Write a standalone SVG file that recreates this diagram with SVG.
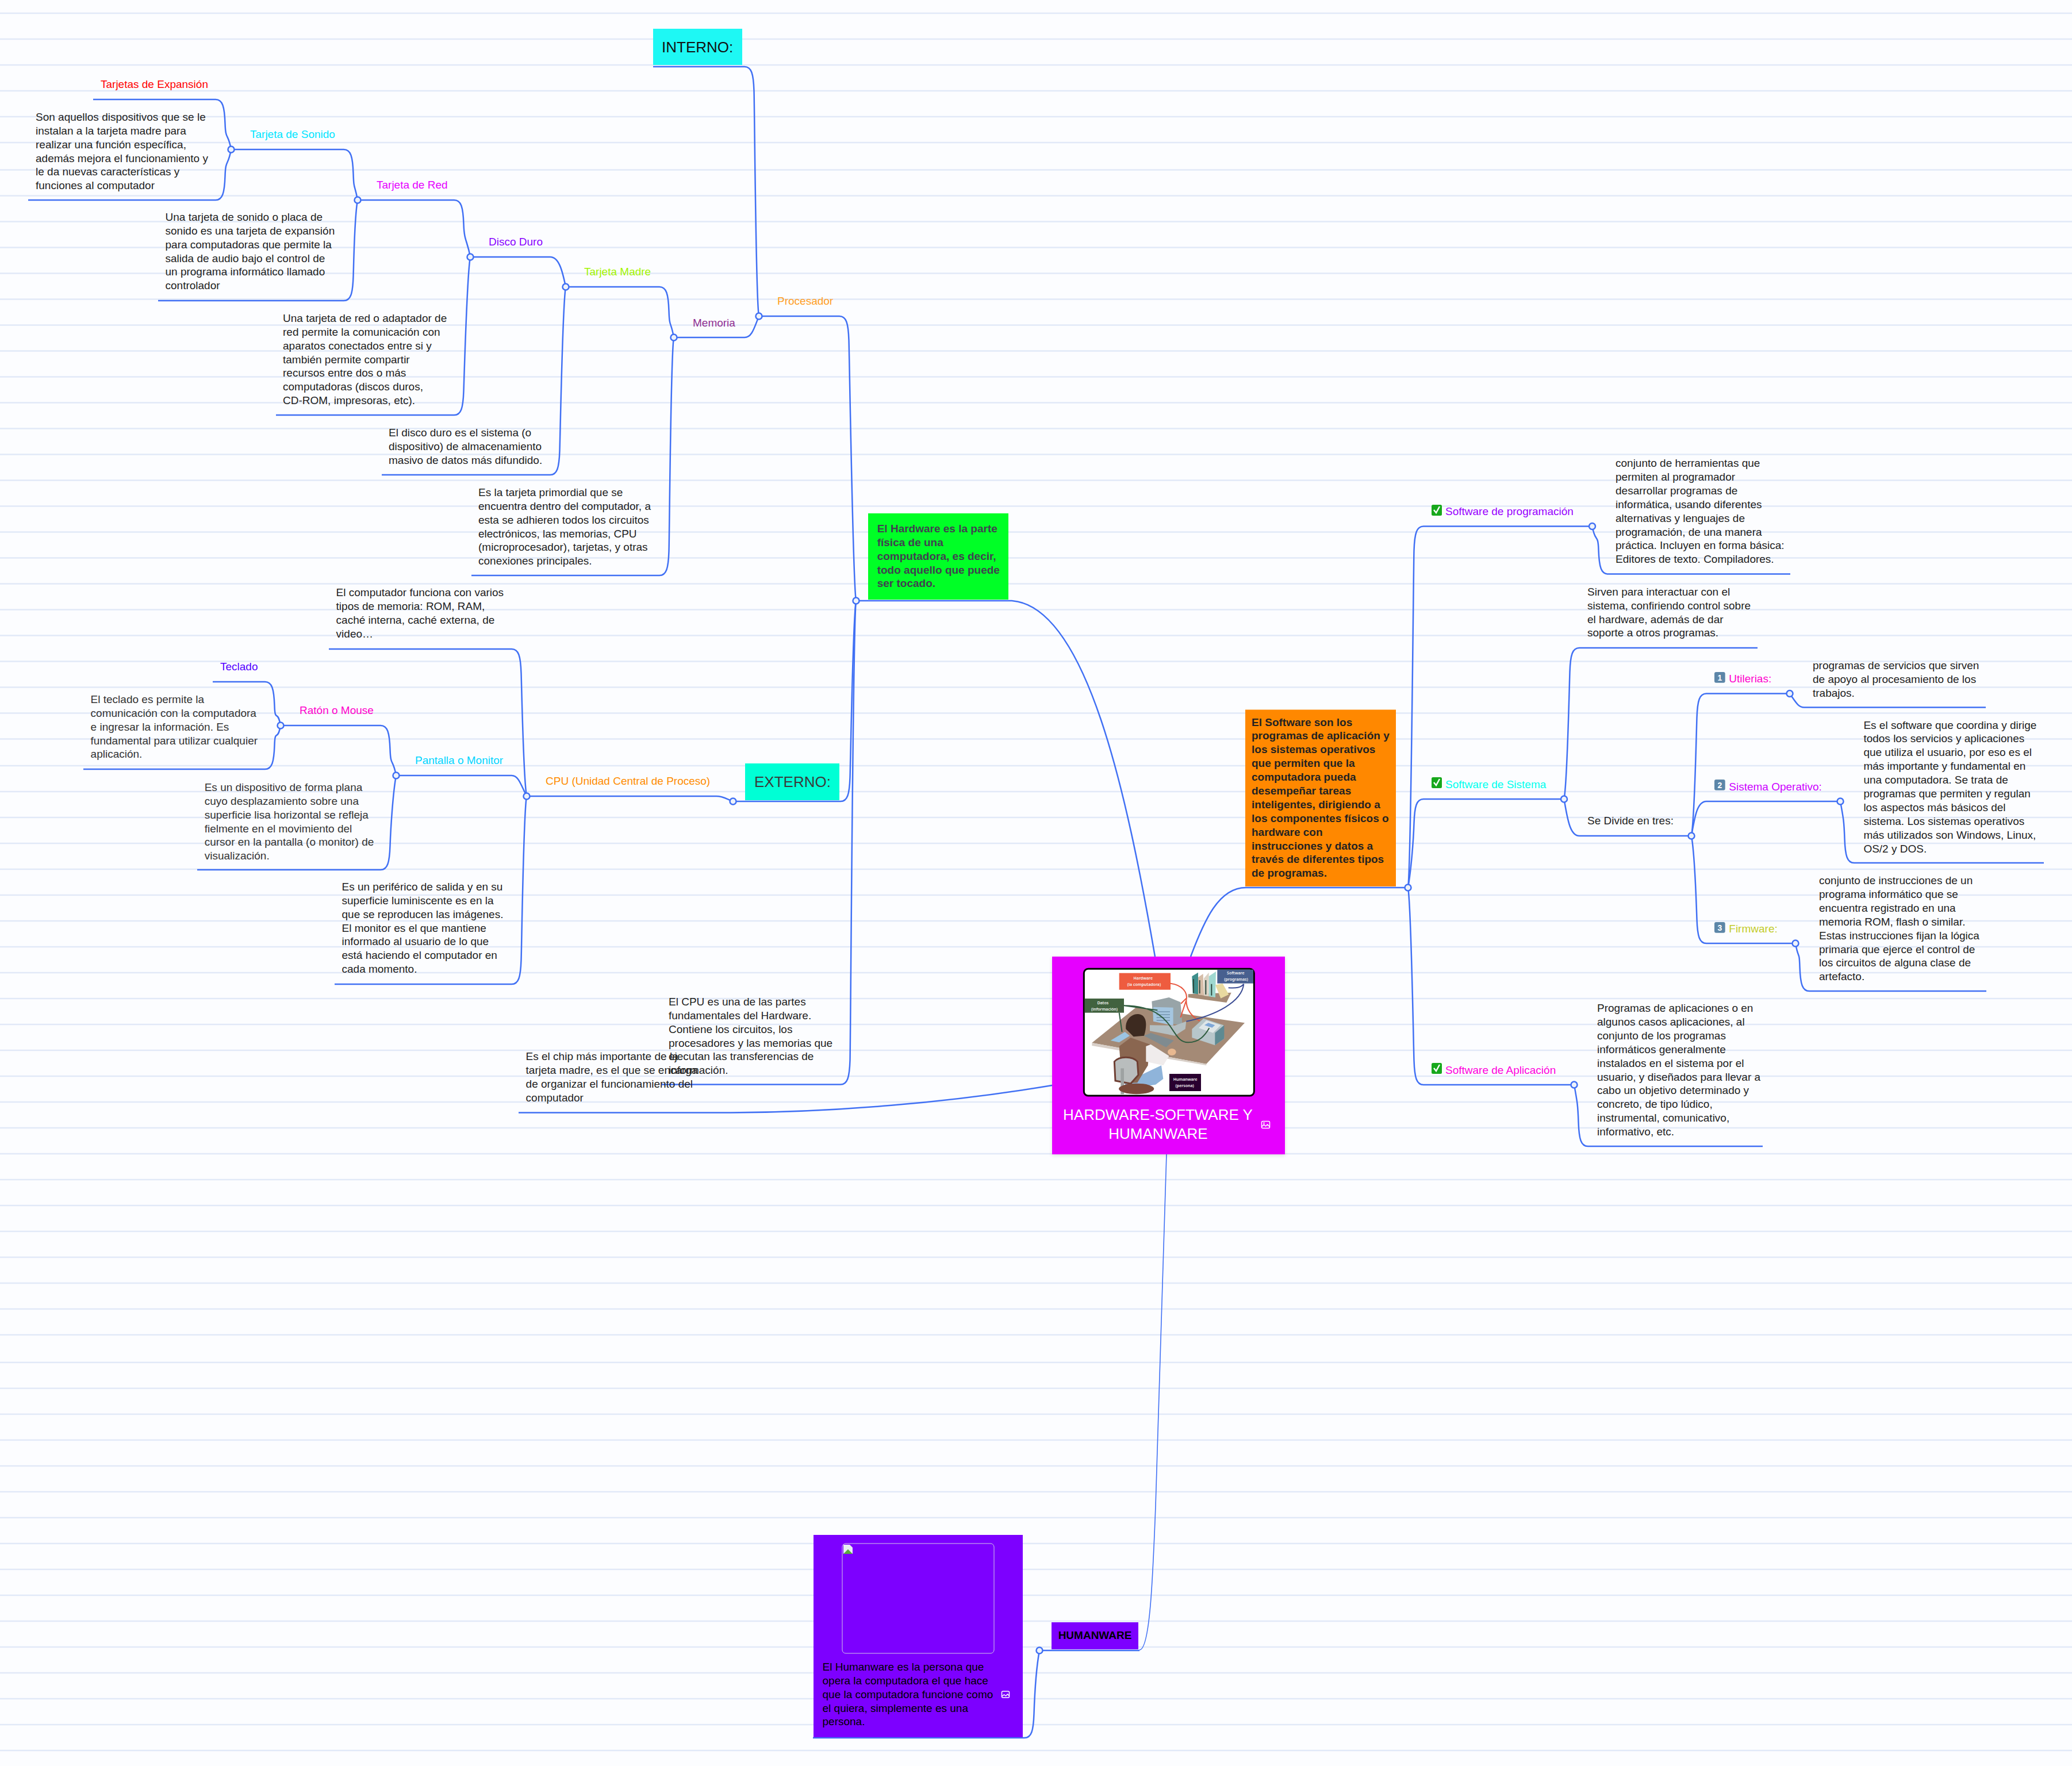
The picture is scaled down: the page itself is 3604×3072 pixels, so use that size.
<svg xmlns="http://www.w3.org/2000/svg" width="3604" height="3072" viewBox="0 0 3604 3072">
<defs><filter id="sh" x="-5%" y="-5%" width="110%" height="110%"><feDropShadow dx="0" dy="2" stdDeviation="3" flood-color="#000" flood-opacity=".12"/></filter></defs>
<style>
text{font-family:"Liberation Sans",Arial,sans-serif;font-size:19px;fill:#1e1e1e}
.bold{font-weight:700}
.big{font-size:26px}
.conn{fill:none;stroke:#4070f4;stroke-width:2.5}
.thin{fill:none;stroke:#4070f4;stroke-width:1.6}
.dot{fill:#edf2fa;stroke:#4070f4;stroke-width:2.5}
.ruled{fill:none;stroke:#e1e9f8;stroke-width:2.6}
.check{fill:#17a81c}
.tick{fill:none;stroke:#fff;stroke-width:2.4}
.key{fill:#5c86a8}
.keyt{font-size:14px;font-weight:700;fill:#fff;text-anchor:middle}
.icon{fill:none;stroke:#fff;stroke-width:1.5}
.it{font-family:"Noto Sans","Liberation Sans",sans-serif;font-size:21px;font-weight:600;fill:#f4f4f4;text-anchor:middle}
</style>
<rect width="3604" height="3072" fill="#fcfdff"/>
<path class="ruled" d="M0 23H3604M0 68H3604M0 113H3604M0 158H3604M0 203H3604M0 248H3604M0 295.5H3604M0 340.5H3604M0 385.5H3604M0 430.5H3604M0 475.5H3604M0 520.5H3604M0 565.5H3604M0 610.5H3604M0 655.5H3604M0 700.5H3604M0 745.5H3604M0 790.5H3604M0 835.5H3604M0 880.5H3604M0 925.5H3604M0 970.5H3604M0 1015.5H3604M0 1060.5H3604M0 1105.5H3604M0 1150.5H3604M0 1195.5H3604M0 1240.5H3604M0 1285.5H3604M0 1332H3604M0 1377H3604M0 1422H3604M0 1467H3604M0 1512H3604M0 1557H3604M0 1602H3604M0 1647H3604M0 1692H3604M0 1737H3604M0 1782H3604M0 1827H3604M0 1872H3604M0 1917H3604M0 1962H3604M0 2007H3604M0 2052H3604M0 2097H3604M0 2142H3604M0 2187H3604M0 2232H3604M0 2277H3604M0 2322H3604M0 2370H3604M0 2415H3604M0 2460H3604M0 2505H3604M0 2550H3604M0 2595H3604M0 2640H3604M0 2685H3604M0 2730H3604M0 2775H3604M0 2820H3604M0 2865H3604M0 2910H3604M0 2955H3604M0 3000H3604M0 3045H3604"/>

<g id="connectors">
<path class="conn" d="M162,173H375c12,0 15.5,12 16.5,42S396.5,230 402,260"/>
<path class="conn" d="M49,348H375c12,0 15.5,-12 16.5,-42S396.5,290 402,260"/>
<path class="conn" d="M402,260H598c12,0 15.5,12 16.5,42S616.5,318 622,348"/>
<path class="conn" d="M275,523H598c12,0 15.5,-12 16.5,-42S616.5,378 622,348"/>
<path class="conn" d="M622,348H790c12,0 15.5,12 16.5,42S812.5,417 818,447"/>
<path class="conn" d="M480,722H790c12,0 15.5,-12 16.5,-42S812.5,477 818,447"/>
<path class="conn" d="M818,447H957C972,447 978,470 984,499"/>
<path class="conn" d="M664,826H957c12,0 15.5,-12 16.5,-42S978.5,529 984,499"/>
<path class="conn" d="M984,499H1147c12,0 15.5,12 16.5,42S1166.5,557 1172,587"/>
<path class="conn" d="M820,1001H1147c12,0 15.5,-12 16.5,-42S1166.5,617 1172,587"/>
<path class="conn" d="M1172,587H1295C1308,587 1312,570 1320,550"/>
<path class="conn" d="M1136,116H1295c12,0 15.5,12 16.5,42S1314.5,520 1320,550"/>
<path class="conn" d="M1320,550H1460c12,0 15.5,12 16.5,42S1483.5,1015 1489,1045"/>
<path class="conn" d="M1275,1394H1462c12,0 15.5,-12 16.5,-42S1483.5,1075 1489,1045"/>
<path class="conn" d="M916,1385H1246C1258,1385 1264,1390 1275,1394"/>
<path class="conn" d="M1151,1886.5H1462c12,0 15.5,-12 16.5,-42S1483.5,1075 1489,1045"/>
<path class="conn" d="M689,1349H890C902,1349 906,1365 916,1385"/>
<path class="conn" d="M572,1129H890c12,0 15.5,12 16.5,42S910.5,1355 916,1385"/>
<path class="conn" d="M582,1712H890c12,0 15.5,-12 16.5,-42S910.5,1415 916,1385"/>
<path class="conn" d="M488,1262H662c12,0 15.5,12 16.5,42S683.5,1319 689,1349"/>
<path class="conn" d="M343,1513H662c12,0 15.5,-12 16.5,-42S683.5,1379 689,1349"/>
<path class="conn" d="M370,1186H461c12,0 15.5,12 16.5,42S482.5,1232 488,1262"/>
<path class="conn" d="M145,1338H461c12,0 15.5,-12 16.5,-42S482.5,1292 488,1262"/>
<path class="conn" d="M1489,1045H1760C1890,1055 1960,1380 2009,1664"/>
<path class="conn" d="M902,1935.6H1271C1450,1935 1650,1918 1830,1888"/>
<path class="conn" d="M2449,1544H2167C2120,1544 2095,1600 2071,1664"/>
<path class="conn" d="M2769.5,915.5H2476c-12,0 -15.5,12 -16.5,42S2454.5,1514 2449,1544"/>
<path class="conn" d="M2720.5,1390H2476c-12,0 -15.5,12 -16.5,42S2454.5,1514 2449,1544"/>
<path class="conn" d="M2738,1887H2476c-12,0 -15.5,-12 -16.5,-42S2454.5,1574 2449,1544"/>
<path class="conn" d="M3114,998.5H2797c-12,0 -15.5,-12 -16.5,-42S2775,945.5 2769.5,915.5"/>
<path class="conn" d="M3057,1127H2747c-12,0 -15.5,12 -16.5,42S2726,1360 2720.5,1390"/>
<path class="conn" d="M2942,1454H2747C2732,1454 2727,1430 2720.5,1390"/>
<path class="conn" d="M3113,1206.5H2968c-12,0 -15.5,12 -16.5,42S2947.5,1424 2942,1454"/>
<path class="conn" d="M3201,1394H2968C2952,1394 2948,1420 2942,1454"/>
<path class="conn" d="M3123,1641H2968c-12,0 -15.5,-12 -16.5,-42S2947.5,1484 2942,1454"/>
<path class="conn" d="M3454,1230.5H3138C3128,1230.5 3124,1222 3113,1206.5"/>
<path class="conn" d="M3555,1501H3225c-12,0 -15.5,-12 -16.5,-42S3206.5,1424 3201,1394"/>
<path class="conn" d="M3455,1724H3147c-12,0 -15.5,-12 -16.5,-42S3128.5,1671 3123,1641"/>
<path class="conn" d="M3066,1994H2762c-12,0 -15.5,-12 -16.5,-42S2743.5,1917 2738,1887"/>
<path class="conn" d="M1414,3023H1782c12,0 15.5,-12 16.5,-42S1802.5,2901 1808,2871"/>
<path class="conn" d="M1808,2871H1982"/>
<path class="thin" d="M2029,2008L2010,2620C2005,2750 2000,2870 1982,2870"/>
<circle class="dot" cx="402" cy="260" r="5.5"/><circle class="dot" cx="622" cy="348" r="5.5"/><circle class="dot" cx="818" cy="447" r="5.5"/><circle class="dot" cx="984" cy="499" r="5.5"/><circle class="dot" cx="1172" cy="587" r="5.5"/><circle class="dot" cx="1320" cy="550" r="5.5"/><circle class="dot" cx="1489" cy="1045" r="5.5"/><circle class="dot" cx="1275" cy="1394" r="5.5"/><circle class="dot" cx="916" cy="1385" r="5.5"/><circle class="dot" cx="689" cy="1349" r="5.5"/><circle class="dot" cx="488" cy="1262" r="5.5"/><circle class="dot" cx="2449" cy="1544" r="5.5"/><circle class="dot" cx="2769.5" cy="915.5" r="5.5"/><circle class="dot" cx="2720.5" cy="1390" r="5.5"/><circle class="dot" cx="2738" cy="1887" r="5.5"/><circle class="dot" cx="2942" cy="1454" r="5.5"/><circle class="dot" cx="3113" cy="1206.5" r="5.5"/><circle class="dot" cx="3201" cy="1394" r="5.5"/><circle class="dot" cx="3123" cy="1641" r="5.5"/><circle class="dot" cx="1808" cy="2871" r="5.5"/>
</g>

<g id="interno"><rect x="1136" y="50" width="155" height="63" fill="#1ef8f4"/><text class="big" x="1151" y="91" style="fill:#111">INTERNO:</text></g>
<g id="externo"><rect x="1296" y="1328" width="164" height="64" fill="#00ffd5"/><text class="big" x="1312" y="1369" style="fill:#3a3a3a">EXTERNO:</text></g>
<g id="tarjetas-expansion"><text x="175" y="153" style="fill:#ff0000">Tarjetas de Expansión</text></g>
<g id="expansion-desc"><text><tspan x="62" y="210">Son aquellos dispositivos que se le</tspan><tspan x="62" y="234">instalan a la tarjeta madre para</tspan><tspan x="62" y="258">realizar una función específica,</tspan><tspan x="62" y="282">además mejora el funcionamiento y</tspan><tspan x="62" y="305">le da nuevas características y</tspan><tspan x="62" y="329">funciones al computador</tspan></text></g>
<g id="tarjeta-sonido"><text x="435" y="240" style="fill:#00e5ff">Tarjeta de Sonido</text></g>
<g id="sonido-desc"><text><tspan x="287.5" y="384">Una tarjeta de sonido o placa de</tspan><tspan x="287.5" y="408">sonido es una tarjeta de expansión</tspan><tspan x="287.5" y="432">para computadoras que permite la</tspan><tspan x="287.5" y="456">salida de audio bajo el control de</tspan><tspan x="287.5" y="479">un programa informático llamado</tspan><tspan x="287.5" y="503">controlador</tspan></text></g>
<g id="tarjeta-red"><text x="655" y="328" style="fill:#e600ff">Tarjeta de Red</text></g>
<g id="red-desc"><text><tspan x="492" y="560">Una tarjeta de red o adaptador de</tspan><tspan x="492" y="584">red permite la comunicación con</tspan><tspan x="492" y="608">aparatos conectados entre si y</tspan><tspan x="492" y="632">también permite compartir</tspan><tspan x="492" y="655">recursos entre dos o más</tspan><tspan x="492" y="679">computadoras (discos duros,</tspan><tspan x="492" y="703">CD-ROM, impresoras, etc).</tspan></text></g>
<g id="disco-duro"><text x="850" y="427" style="fill:#8800ff">Disco Duro</text></g>
<g id="disco-desc"><text><tspan x="676" y="759">El disco duro es el sistema (o</tspan><tspan x="676" y="783">dispositivo) de almacenamiento</tspan><tspan x="676" y="807">masivo de datos más difundido.</tspan></text></g>
<g id="tarjeta-madre"><text x="1016" y="479" style="fill:#a4f500">Tarjeta Madre</text></g>
<g id="madre-desc"><text><tspan x="832" y="863">Es la tarjeta primordial que se</tspan><tspan x="832" y="887">encuentra dentro del computador, a</tspan><tspan x="832" y="911">esta se adhieren todos los circuitos</tspan><tspan x="832" y="935">electrónicos, las memorias, CPU</tspan><tspan x="832" y="958">(microprocesador), tarjetas, y otras</tspan><tspan x="832" y="982">conexiones principales.</tspan></text></g>
<g id="memoria"><text x="1205" y="568" style="fill:#8f2d92">Memoria</text></g>
<g id="procesador"><text x="1352" y="530" style="fill:#ff9d1f">Procesador</text></g>
<g id="hardware"><rect x="1510" y="893" width="244" height="150" fill="#00ff26"/><text class="bold" style="fill:#404050"><tspan x="1525.7" y="926">El Hardware es la parte</tspan><tspan x="1525.7" y="950">física de una</tspan><tspan x="1525.7" y="974">computadora, es decir,</tspan><tspan x="1525.7" y="997.5">todo aquello que puede</tspan><tspan x="1525.7" y="1021">ser tocado.</tspan></text></g>
<g id="memoria-desc"><text><tspan x="584.6" y="1037">El computador funciona con varios</tspan><tspan x="584.6" y="1061">tipos de memoria: ROM, RAM,</tspan><tspan x="584.6" y="1085">caché interna, caché externa, de</tspan><tspan x="584.6" y="1109">video…</tspan></text></g>
<g id="teclado"><text x="383" y="1166" style="fill:#5500ff">Teclado</text></g>
<g id="teclado-desc"><text style="fill:#333"><tspan x="157.6" y="1223">El teclado es permite la</tspan><tspan x="157.6" y="1247">comunicación con la computadora</tspan><tspan x="157.6" y="1271">e ingresar la información. Es</tspan><tspan x="157.6" y="1295">fundamental para utilizar cualquier</tspan><tspan x="157.6" y="1318">aplicación.</tspan></text></g>
<g id="raton"><text x="521" y="1242" style="fill:#ff00cc">Ratón o Mouse</text></g>
<g id="raton-desc"><text style="fill:#333"><tspan x="355.7" y="1376">Es un dispositivo de forma plana</tspan><tspan x="355.7" y="1400">cuyo desplazamiento sobre una</tspan><tspan x="355.7" y="1424">superficie lisa horizontal se refleja</tspan><tspan x="355.7" y="1448">fielmente en el movimiento del</tspan><tspan x="355.7" y="1471">cursor en la pantalla (o monitor) de</tspan><tspan x="355.7" y="1495">visualización.</tspan></text></g>
<g id="pantalla"><text x="722" y="1329" style="fill:#00d5ff">Pantalla o Monitor</text></g>
<g id="pantalla-desc"><text><tspan x="594.5" y="1549">Es un periférico de salida y en su</tspan><tspan x="594.5" y="1573">superficie luminiscente es en la</tspan><tspan x="594.5" y="1597">que se reproducen las imágenes.</tspan><tspan x="594.5" y="1621">El monitor es el que mantiene</tspan><tspan x="594.5" y="1644">informado al usuario de lo que</tspan><tspan x="594.5" y="1668">está haciendo el computador en</tspan><tspan x="594.5" y="1692">cada momento.</tspan></text></g>
<g id="cpu"><text x="949" y="1365" style="fill:#ff8c00">CPU (Unidad Central de Proceso)</text></g>
<g id="cpu-desc"><text><tspan x="1163" y="1749">El CPU es una de las partes</tspan><tspan x="1163" y="1773">fundamentales del Hardware.</tspan><tspan x="1163" y="1797">Contiene los circuitos, los</tspan><tspan x="1163" y="1821">procesadores y las memorias que</tspan><tspan x="1163" y="1844">ejecutan las transferencias de</tspan><tspan x="1163" y="1868">información.</tspan></text></g>
<g id="chip-desc"><text><tspan x="914.6" y="1844">Es el chip más importante de la</tspan><tspan x="914.6" y="1868">tarjeta madre, es el que se encarga</tspan><tspan x="914.6" y="1892">de organizar el funcionamiento del</tspan><tspan x="914.6" y="1916">computador</tspan></text></g>

<g id="root">
<rect x="1830" y="1664" width="405" height="344" fill="#e600ff" filter="url(#sh)"/>
<g transform="translate(1780,1620) scale(.33333)">
<rect x="316" y="196" width="888" height="662" rx="22" fill="#fff" stroke="#000" stroke-width="9"/>
<path d="M590,395L1155,478L955,692L358,582Z" fill="#a48a76"/>
<path d="M358,582L358,597L955,700L955,692Z" fill="#d8cfc8"/>
<path d="M860,328L1085,320L1060,372L860,345Z" fill="#a58b75"/>
<path d="M880,235L912,215L912,328L884,325Z" fill="#3f8f8c"/><path d="M912,240L938,222L942,335L912,330Z" fill="#d6bda8"/><path d="M942,245L968,215L968,340L942,336Z" fill="#dcd2c4"/><path d="M968,235L1005,210L1002,345L968,340Z" fill="#9fd8d0"/><path d="M1002,280L1040,272L1072,330L1030,350Z" fill="#e8d9a0"/>
<path d="M888,250V322M920,255V325M952,255V330M982,275V335" stroke="#2f4a3f" stroke-width="6" fill="none"/>
<path d="M670,365L760,345L820,370L830,490L678,470Z" fill="#98a4a8"/>
<path d="M678,395L782,398L782,492L678,470Z" fill="#a5c6e0"/>
<path d="M695,420H765M695,435H765M695,450H765M695,465H765" stroke="#5a7a96" stroke-width="3" fill="none"/>
<path d="M660,490L790,492L850,470L845,510L790,545L660,520Z" fill="#b4bfc2"/>
<path d="M630,545L665,530L785,570L745,605Z" fill="#7f8b90"/>
<path d="M455,570L530,525L555,545L500,580Z" fill="#9cc4e2"/>
<path d="M880,510L940,455L1045,490L1048,560L1000,595L880,555Z" fill="#b7c6ca"/>
<path d="M1000,530L1048,490L1048,560L1000,595Z" fill="#5d8a92"/>
<path d="M915,505L955,465L1030,490L990,530Z" fill="#dfe6e8"/><path d="M945,490L965,478L1000,490L985,503Z" fill="#7fa7d8"/>
<path d="M530,790L720,700L730,770L690,800L530,825Z" fill="#8fb4da"/>
<path d="M500,600L560,555L660,590L650,700L595,790L515,795Z" fill="#8a6650"/>
<path d="M640,600L665,590L760,650L730,700L640,680Z" fill="#f0ecec"/>
<ellipse cx="775" cy="630" rx="22" ry="18" fill="#e8b890"/>
<path d="M535,510C530,460 565,430 600,432C640,435 650,480 630,545L575,550Z" fill="#3d2a20"/>
<path d="M475,680C500,650 570,650 595,680L600,750L560,795L480,780Z" fill="#b9bdbd" stroke="#6f3f33" stroke-width="9"/>
<rect x="508" y="715" width="17" height="135" fill="#9ea2a2"/>
<ellipse cx="590" cy="822" rx="92" ry="28" fill="#7a4a3a"/>
<rect x="500" y="218" width="268" height="87" fill="#ee5c3f"/>
<rect x="1012" y="200" width="188" height="72" fill="#48608f"/>
<rect x="320" y="351" width="205" height="74" fill="#41623f"/>
<rect x="762" y="744" width="165" height="90" fill="#29002f"/>
<g fill="none" stroke-width="6">
<path d="M768,272C830,280 860,320 850,360L820,450M850,360C850,410 880,445 920,468M850,350L822,378" stroke="#e8563f"/>
<path d="M525,388L700,412M525,388C800,390 760,580 860,580C920,580 950,540 970,505M500,425L515,525" stroke="#2f5c3f"/>
<path d="M1150,275C1130,300 1100,295 1070,295M1150,275C1140,370 1000,440 850,470" stroke="#3c4d94"/>
</g>
<text class="it" x="625" y="252">Hardware</text><text class="it" x="630" y="284">(la computadora)</text>
<text class="it" x="1108" y="225">Software</text><text class="it" x="1110" y="257">(programas)</text>
<text class="it" x="415" y="381">Datos</text><text class="it" x="423" y="413">(información)</text>
<text class="it" x="845" y="780">Humanware</text><text class="it" x="842" y="812">(persona)</text>
</g>
<text class="big" x="2014" y="1948" text-anchor="middle" style="fill:#fff">HARDWARE-SOFTWARE Y</text>
<text class="big" x="2014.5" y="1981" text-anchor="middle" style="fill:#fff">HUMANWARE</text>
<rect class="icon" x="2194.5" y="1950.5" width="14" height="12" rx="2"/><path class="icon" d="M2194.5,1960l4,-4 3,3 3,-3 4,4"/><circle cx="2198.5" cy="1953.5" r="1.2" fill="#fff"/>
</g>

<g id="software"><rect x="2166" y="1234.5" width="262" height="307.5" fill="#ff8800"/><text class="bold" style="fill:#222"><tspan x="2177" y="1262.5">El Software son los</tspan><tspan x="2177" y="1286.4">programas de aplicación y</tspan><tspan x="2177" y="1310.3">los sistemas operativos</tspan><tspan x="2177" y="1334.2">que permiten que la</tspan><tspan x="2177" y="1358">computadora pueda</tspan><tspan x="2177" y="1382">desempeñar tareas</tspan><tspan x="2177" y="1405.8">inteligentes, dirigiendo a</tspan><tspan x="2177" y="1429.7">los componentes físicos o</tspan><tspan x="2177" y="1453.6">hardware con</tspan><tspan x="2177" y="1477.5">instrucciones y datos a</tspan><tspan x="2177" y="1501.4">través de diferentes tipos</tspan><tspan x="2177" y="1525.3">de programas.</tspan></text></g>

<g id="sw-programacion"><rect class="check" x="2490" y="878" width="18" height="19" rx="2.5"/><path class="tick" d="M2494,887l4,5 6,-11"/><text x="2514" y="896" style="fill:#9900ff">Software de programación</text></g>
<g id="programacion-desc"><text><tspan x="2810" y="812">conjunto de herramientas que</tspan><tspan x="2810" y="835.9">permiten al programador</tspan><tspan x="2810" y="859.8">desarrollar programas de</tspan><tspan x="2810" y="883.7">informática, usando diferentes</tspan><tspan x="2810" y="907.5">alternativas y lenguajes de</tspan><tspan x="2810" y="931.5">programación, de una manera</tspan><tspan x="2810" y="955.3">práctica. Incluyen en forma básica:</tspan><tspan x="2810" y="979.2">Editores de texto. Compiladores.</tspan></text></g>
<g id="sw-sistema"><rect class="check" x="2490" y="1352" width="18" height="19" rx="2.5"/><path class="tick" d="M2494,1361l4,5 6,-11"/><text x="2514" y="1371" style="fill:#00ffee">Software de Sistema</text></g>
<g id="sistema-desc"><text><tspan x="2761" y="1035.5">Sirven para interactuar con el</tspan><tspan x="2761" y="1059.5">sistema, confiriendo control sobre</tspan><tspan x="2761" y="1083.5">el hardware, además de dar</tspan><tspan x="2761" y="1107">soporte a otros programas.</tspan></text></g>
<g id="se-divide"><text x="2761" y="1433.5">Se Divide en tres:</text></g>
<g id="utilerias"><rect class="key" x="2982" y="1169" width="18.7" height="18.7" rx="3"/><text class="keyt" x="2991.3" y="1183.5">1</text><text x="3007.3" y="1187" style="fill:#ff00cc">Utilerias:</text></g>
<g id="utilerias-desc"><text><tspan x="3153" y="1164">programas de servicios que sirven</tspan><tspan x="3153" y="1187.9">de apoyo al procesamiento de los</tspan><tspan x="3153" y="1211.8">trabajos.</tspan></text></g>
<g id="sistema-operativo"><rect class="key" x="2982" y="1356" width="18.7" height="18.7" rx="3"/><text class="keyt" x="2991.3" y="1370.5">2</text><text x="3007.3" y="1374.5" style="fill:#cc00ff">Sistema Operativo:</text></g>
<g id="operativo-desc"><text><tspan x="3241.4" y="1267.5">Es el software que coordina y dirige</tspan><tspan x="3241.4" y="1291.4">todos los servicios y aplicaciones</tspan><tspan x="3241.4" y="1315.3">que utiliza el usuario, por eso es el</tspan><tspan x="3241.4" y="1339.2">más importante y fundamental en</tspan><tspan x="3241.4" y="1363">una computadora. Se trata de</tspan><tspan x="3241.4" y="1386.9">programas que permiten y regulan</tspan><tspan x="3241.4" y="1410.8">los aspectos más básicos del</tspan><tspan x="3241.4" y="1434.7">sistema. Los sistemas operativos</tspan><tspan x="3241.4" y="1458.5">más utilizados son Windows, Linux,</tspan><tspan x="3241.4" y="1482.5">OS/2 y DOS.</tspan></text></g>
<g id="firmware"><rect class="key" x="2982" y="1604" width="18.7" height="18.7" rx="3"/><text class="keyt" x="2991.3" y="1618.5">3</text><text x="3007.3" y="1621.5" style="fill:#c4cc2a">Firmware:</text></g>
<g id="firmware-desc"><text><tspan x="3164" y="1538">conjunto de instrucciones de un</tspan><tspan x="3164" y="1561.9">programa informático que se</tspan><tspan x="3164" y="1585.8">encuentra registrado en una</tspan><tspan x="3164" y="1609.7">memoria ROM, flash o similar.</tspan><tspan x="3164" y="1633.5">Estas instrucciones fijan la lógica</tspan><tspan x="3164" y="1657.5">primaria que ejerce el control de</tspan><tspan x="3164" y="1681.3">los circuitos de alguna clase de</tspan><tspan x="3164" y="1705.2">artefacto.</tspan></text></g>
<g id="sw-aplicacion"><rect class="check" x="2490" y="1849" width="18" height="19" rx="2.5"/><path class="tick" d="M2494,1858l4,5 6,-11"/><text x="2514" y="1868" style="fill:#ff00dd">Software de Aplicación</text></g>
<g id="aplicacion-desc"><text><tspan x="2778" y="1760">Programas de aplicaciones o en</tspan><tspan x="2778" y="1783.9">algunos casos aplicaciones, al</tspan><tspan x="2778" y="1807.8">conjunto de los programas</tspan><tspan x="2778" y="1831.7">informáticos generalmente</tspan><tspan x="2778" y="1855.5">instalados en el sistema por el</tspan><tspan x="2778" y="1879.5">usuario, y diseñados para llevar a</tspan><tspan x="2778" y="1903.3">cabo un objetivo determinado y</tspan><tspan x="2778" y="1927.2">concreto, de tipo lúdico,</tspan><tspan x="2778" y="1951.1">instrumental, comunicativo,</tspan><tspan x="2778" y="1975">informativo, etc.</tspan></text></g>

<g id="humanware"><rect x="1829" y="2822" width="151" height="47" fill="#7d00ff"/><text class="bold" x="1904.5" y="2851" text-anchor="middle" style="fill:#000">HUMANWARE</text></g>
<g id="humanware-card">
<rect x="1415" y="2670" width="364" height="352" fill="#7d00ff"/>
<rect x="1465" y="2685" width="264" height="191" rx="6" fill="none" stroke="#d4c8e8" stroke-width="1"/>
<path d="M1467,2687h11l5,5v11h-16z" fill="#e8eef2"/><path d="M1467,2703l8,-8 5,5 3,3z" fill="#5aa83c"/>
<text style="fill:#000"><tspan x="1430.5" y="2906">El Humanware es la persona que</tspan><tspan x="1430.5" y="2930">opera la computadora el que hace</tspan><tspan x="1430.5" y="2954">que la computadora funcione como</tspan><tspan x="1430.5" y="2977.5">el quiera, simplemente es una</tspan><tspan x="1430.5" y="3001">persona.</tspan></text>
<rect class="icon" x="1742.5" y="2942" width="13" height="11" rx="2"/><path class="icon" d="M1742.5,2951l4,-3 3,2 3,-3 3,3"/>
</g>
</svg>
